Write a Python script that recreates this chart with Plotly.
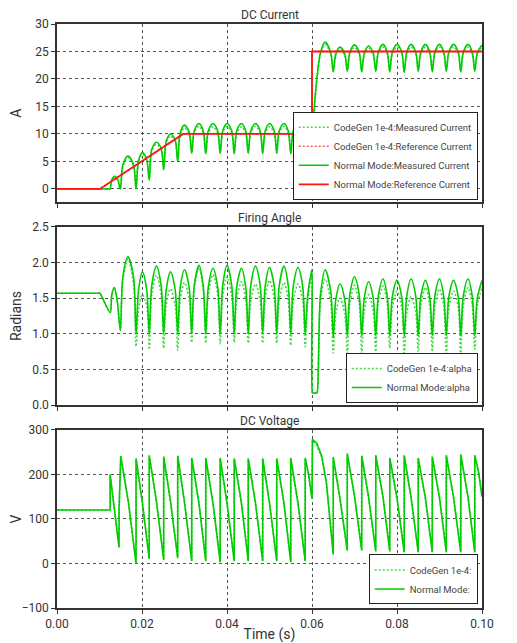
import plotly.graph_objects as go
from plotly.subplots import make_subplots

# ---- DC Current (A) ----
cur_t = [
    0.0000, 0.0124, 0.0125,
    0.0129, 0.0136, 0.0143, 0.0149,
    0.0155, 0.0167, 0.0180, 0.0186,
    0.0192, 0.0201, 0.0211, 0.0217,
    0.0223, 0.0234, 0.0245, 0.0251,
    0.0257, 0.0267, 0.0278, 0.0284,
    0.0290, 0.0300, 0.0311, 0.0317,
    0.0323, 0.0334, 0.0344, 0.0350,
    0.0356, 0.0367, 0.0378, 0.0384,
    0.0390, 0.0400, 0.0411, 0.0417,
    0.0423, 0.0434, 0.0444, 0.0450,
    0.0456, 0.0467, 0.0478, 0.0484,
    0.0490, 0.0500, 0.0511, 0.0517,
    0.0523, 0.0534, 0.0544, 0.0550,
    0.0556, 0.0567, 0.0578, 0.0584,
    0.0590, 0.0600, 0.0610, 0.0620, 0.0631, 0.0644, 0.0650,
    0.0656, 0.0666, 0.0677, 0.0683,
    0.0689, 0.0700, 0.0711, 0.0717,
    0.0723, 0.0733, 0.0744, 0.0750,
    0.0756, 0.0767, 0.0777, 0.0783,
    0.0789, 0.0800, 0.0811, 0.0817,
    0.0823, 0.0833, 0.0844, 0.0850,
    0.0856, 0.0867, 0.0877, 0.0883,
    0.0889, 0.0900, 0.0910, 0.0916,
    0.0922, 0.0933, 0.0944, 0.0950,
    0.0956, 0.0967, 0.0977, 0.0983,
    0.0989, 0.1000,
]
cur_normal = [
    0.0, 0.0, 0.0,
    1.7, 2.3, 1.7, 0.0,
    4.4, 6.0, 4.4, 0.0,
    5.2, 6.6, 5.4, 1.6,
    7.2, 8.5, 7.4, 3.5,
    8.7, 10.0, 8.9, 5.0,
    10.2, 11.6, 10.3, 6.5,
    10.6, 11.9, 10.6, 6.4,
    10.6, 11.9, 10.6, 6.5,
    10.6, 11.9, 10.6, 6.4,
    10.6, 11.9, 10.6, 6.5,
    10.6, 11.9, 10.6, 6.4,
    10.6, 11.9, 10.6, 6.5,
    10.6, 11.9, 10.6, 6.4,
    10.6, 11.9, 10.6, 6.4,
    9.6, 11.4, 19.0, 24.8, 26.7, 24.8, 21.3,
    24.6, 25.8, 24.6, 21.4,
    24.8, 26.2, 24.8, 21.3,
    24.7, 26.0, 24.7, 21.4,
    24.9, 26.3, 24.9, 21.3,
    24.9, 26.3, 24.9, 21.2,
    24.9, 26.3, 24.9, 21.4,
    24.9, 26.3, 24.9, 21.3,
    24.9, 26.3, 24.9, 21.4,
    24.9, 26.3, 24.9, 21.3,
    24.9, 26.3, 24.9, 21.4,
    24.8, 26.2,
]
cur_codegen = [
    0.0, 0.0, 0.0,
    1.6, 2.1, 1.5, 0.0,
    4.1, 5.7, 4.2, 0.2,
    5.0, 6.3, 5.2, 1.8,
    6.9, 8.1, 7.1, 3.7,
    8.4, 9.6, 8.6, 5.2,
    9.8, 11.1, 9.9, 6.6,
    10.2, 11.4, 10.2, 6.6,
    10.1, 11.3, 10.1, 6.6,
    10.2, 11.4, 10.2, 6.6,
    10.1, 11.3, 10.1, 6.6,
    10.2, 11.4, 10.2, 6.6,
    10.1, 11.3, 10.1, 6.6,
    10.2, 11.4, 10.2, 6.6,
    10.1, 11.3, 10.1, 6.6,
    9.4, 11.0, 18.6, 24.5, 26.3, 24.5, 21.5,
    24.3, 25.4, 24.3, 21.6,
    24.5, 25.7, 24.5, 21.5,
    24.4, 25.6, 24.4, 21.6,
    24.6, 25.8, 24.6, 21.5,
    24.6, 25.8, 24.6, 21.4,
    24.6, 25.8, 24.6, 21.6,
    24.6, 25.8, 24.6, 21.5,
    24.6, 25.8, 24.6, 21.6,
    24.6, 25.8, 24.6, 21.5,
    24.6, 25.8, 24.6, 21.6,
    24.5, 25.8,
]
ref_t = [0.0, 0.0101, 0.0297, 0.0600, 0.0600, 0.1000]
ref_current = [0, 0, 10, 10, 25, 25]

# ---- Firing Angle (rad) ----
alpha_t = [
    0.0000, 0.0099, 0.0101, 0.0125,
    0.0129, 0.0135, 0.0142, 0.0149,
    0.0155, 0.0167, 0.0180, 0.0186,
    0.0192, 0.0201, 0.0211, 0.0217,
    0.0223, 0.0234, 0.0245, 0.0251,
    0.0257, 0.0267, 0.0278, 0.0284,
    0.0290, 0.0300, 0.0311, 0.0317,
    0.0323, 0.0334, 0.0344, 0.0350,
    0.0356, 0.0367, 0.0378, 0.0384,
    0.0390, 0.0400, 0.0411, 0.0417,
    0.0423, 0.0434, 0.0444, 0.0450,
    0.0456, 0.0467, 0.0478, 0.0484,
    0.0490, 0.0500, 0.0511, 0.0517,
    0.0523, 0.0534, 0.0544, 0.0550,
    0.0556, 0.0567, 0.0578, 0.0584,
    0.0590, 0.0599, 0.0600, 0.0601, 0.0602, 0.0611, 0.0612, 0.0620, 0.0631, 0.0644, 0.0650,
    0.0656, 0.0666, 0.0677, 0.0683,
    0.0689, 0.0700, 0.0711, 0.0717,
    0.0723, 0.0733, 0.0744, 0.0750,
    0.0756, 0.0767, 0.0777, 0.0783,
    0.0789, 0.0800, 0.0811, 0.0817,
    0.0823, 0.0833, 0.0844, 0.0850,
    0.0856, 0.0867, 0.0877, 0.0883,
    0.0889, 0.0900, 0.0910, 0.0916,
    0.0922, 0.0933, 0.0944, 0.0950,
    0.0956, 0.0967, 0.0977, 0.0983,
    0.0989, 0.1000,
]
alpha_normal = [
    1.57, 1.57, 1.57, 1.30,
    1.55, 1.65, 1.45, 1.05,
    1.80, 2.08, 1.80, 1.00,
    1.62, 1.87, 1.62, 1.00,
    1.68, 1.95, 1.68, 1.00,
    1.62, 1.87, 1.62, 1.00,
    1.65, 1.90, 1.65, 1.00,
    1.68, 1.96, 1.68, 1.00,
    1.66, 1.92, 1.66, 1.00,
    1.68, 1.96, 1.68, 1.00,
    1.66, 1.92, 1.66, 1.00,
    1.68, 1.95, 1.68, 1.00,
    1.67, 1.93, 1.67, 1.00,
    1.68, 1.95, 1.68, 1.00,
    1.67, 1.93, 1.67, 1.00,
    1.55, 1.88, 1.90, 0.17, 0.17, 0.17, 0.17, 1.55, 1.90, 1.60, 0.95,
    1.48, 1.70, 1.48, 0.97,
    1.55, 1.80, 1.55, 0.97,
    1.50, 1.73, 1.50, 0.97,
    1.53, 1.77, 1.53, 0.97,
    1.52, 1.75, 1.52, 0.97,
    1.53, 1.77, 1.53, 0.97,
    1.52, 1.75, 1.52, 0.97,
    1.53, 1.77, 1.53, 0.97,
    1.52, 1.75, 1.52, 0.97,
    1.53, 1.77, 1.53, 0.97,
    1.50, 1.75,
]
alpha_codegen = [
    1.57, 1.57, 1.57, 1.30,
    1.55, 1.65, 1.45, 1.05,
    1.75, 2.05, 1.70, 0.82,
    1.35, 1.55, 1.40, 0.78,
    1.55, 1.82, 1.55, 0.80,
    1.40, 1.63, 1.40, 0.77,
    1.48, 1.72, 1.48, 0.88,
    1.62, 1.93, 1.62, 0.87,
    1.55, 1.83, 1.55, 0.86,
    1.53, 1.80, 1.53, 0.88,
    1.48, 1.73, 1.48, 0.87,
    1.46, 1.70, 1.46, 0.87,
    1.50, 1.75, 1.50, 0.87,
    1.47, 1.72, 1.47, 0.84,
    1.46, 1.70, 1.46, 0.82,
    1.45, 1.83, 1.85, 0.17, 0.17, 0.17, 0.17, 1.45, 1.77, 1.45, 0.73,
    1.28, 1.50, 1.28, 0.73,
    1.42, 1.68, 1.42, 0.73,
    1.32, 1.55, 1.32, 0.75,
    1.42, 1.67, 1.42, 0.80,
    1.37, 1.60, 1.37, 0.73,
    1.30, 1.52, 1.30, 0.75,
    1.40, 1.65, 1.40, 0.75,
    1.38, 1.63, 1.38, 0.72,
    1.37, 1.60, 1.37, 0.73,
    1.40, 1.65, 1.40, 0.78,
    1.40, 1.65,
]

# ---- DC Voltage (V) ----
volt_t = [
    0.0000, 0.0125, 0.0125, 0.0146, 0.0146, 0.0150,
    0.0168, 0.0186, 0.0186,
    0.0201, 0.0217, 0.0217,
    0.0234, 0.0251, 0.0251,
    0.0267, 0.0284, 0.0284,
    0.0300, 0.0317, 0.0317,
    0.0334, 0.0350, 0.0350,
    0.0367, 0.0384, 0.0384,
    0.0400, 0.0417, 0.0417,
    0.0434, 0.0450, 0.0450,
    0.0467, 0.0484, 0.0484,
    0.0500, 0.0517, 0.0517,
    0.0534, 0.0550, 0.0550,
    0.0567, 0.0584, 0.0584,
    0.0592, 0.0600, 0.0601,
    0.0611, 0.0623, 0.0634, 0.0642, 0.0650, 0.0650,
    0.0666, 0.0683, 0.0683,
    0.0700, 0.0717, 0.0717,
    0.0733, 0.0750, 0.0750,
    0.0767, 0.0783, 0.0783,
    0.0800, 0.0817, 0.0817,
    0.0833, 0.0850, 0.0850,
    0.0867, 0.0883, 0.0883,
    0.0900, 0.0916, 0.0916,
    0.0933, 0.0950, 0.0950,
    0.0967, 0.0983, 0.0983,
    0.0992, 0.1000,
]
volt_normal = [
    120, 120, 200, 36, 120, 241,
    138, 0, 236,
    136, 10, 243,
    140, 8, 240,
    140, 12, 242,
    138, 5, 237,
    136, 5, 237,
    136, 3, 237,
    136, 5, 236,
    136, 5, 236,
    136, 5, 236,
    136, 5, 236,
    136, 3, 237,
    136, 5, 237,
    200, 145, 279,
    270, 241, 181, 107, 20, 239,
    145, 29, 247,
    152, 29, 242,
    150, 27, 243,
    150, 27, 237,
    147, 25, 243,
    149, 25, 237,
    146, 25, 240,
    148, 25, 243,
    149, 25, 245,
    150, 25, 243,
    205, 150,
]
volt_codegen = [
    120, 120, 198, 38, 118, 239,
    136, 2, 234,
    134, 12, 241,
    138, 10, 238,
    138, 14, 240,
    136, 7, 235,
    134, 7, 235,
    134, 5, 235,
    134, 7, 234,
    134, 7, 234,
    134, 7, 234,
    134, 7, 234,
    134, 5, 235,
    134, 7, 235,
    198, 148, 276,
    267, 238, 179, 106, 23, 236,
    143, 31, 244,
    150, 31, 240,
    148, 29, 241,
    148, 29, 235,
    145, 27, 241,
    147, 27, 235,
    144, 27, 238,
    146, 27, 241,
    147, 27, 243,
    148, 27, 241,
    203, 152,
]

GREEN = "rgb(0,204,0)"
GREEN_DOT = "rgb(70,215,70)"
RED = "rgb(255,20,20)"
RED_DOT = "rgb(255,90,90)"
DOT = "2px,2px"

fig = make_subplots(rows=3, cols=1, vertical_spacing=0.0425,
                    subplot_titles=("DC Current", "Firing Angle", "DC Voltage"))

# top panel: currents (spline keeps the ripple arches rounded)
fig.add_trace(go.Scatter(x=cur_t, y=cur_codegen, mode="lines", name="CodeGen 1e-4:Measured Current",
                         line=dict(color=GREEN_DOT, width=1.6, dash=DOT, shape="spline", smoothing=0.9),
                         legend="legend"), row=1, col=1)
fig.add_trace(go.Scatter(x=ref_t, y=ref_current, mode="lines", name="CodeGen 1e-4:Reference Current",
                         line=dict(color=RED_DOT, width=1.6, dash=DOT), legend="legend"), row=1, col=1)
fig.add_trace(go.Scatter(x=cur_t, y=cur_normal, mode="lines", name="Normal Mode:Measured Current",
                         line=dict(color=GREEN, width=1.6, shape="spline", smoothing=0.9),
                         legend="legend"), row=1, col=1)
fig.add_trace(go.Scatter(x=ref_t, y=ref_current, mode="lines", name="Normal Mode:Reference Current",
                         line=dict(color=RED, width=1.8), legend="legend"), row=1, col=1)

# middle panel: firing angle
fig.add_trace(go.Scatter(x=alpha_t, y=alpha_codegen, mode="lines", name="CodeGen 1e-4:alpha",
                         line=dict(color=GREEN_DOT, width=1.6, dash=DOT, shape="spline", smoothing=0.9),
                         legend="legend2"), row=2, col=1)
fig.add_trace(go.Scatter(x=alpha_t, y=alpha_normal, mode="lines", name="Normal Mode:alpha",
                         line=dict(color=GREEN, width=1.6, shape="spline", smoothing=0.9),
                         legend="legend2"), row=2, col=1)

# bottom panel: dc voltage
fig.add_trace(go.Scatter(x=volt_t, y=volt_codegen, mode="lines", name="CodeGen 1e-4:",
                         line=dict(color=GREEN_DOT, width=1.6, dash=DOT), legend="legend3"), row=3, col=1)
fig.add_trace(go.Scatter(x=volt_t, y=volt_normal, mode="lines", name="Normal Mode:",
                         line=dict(color=GREEN, width=1.6), legend="legend3"), row=3, col=1)

axis_style = dict(showline=True, mirror=True, linecolor="#333", linewidth=1.5,
                  showgrid=True, gridcolor="#555", griddash="dot", gridwidth=1,
                  zeroline=False, ticks="outside", ticklen=4, tickcolor="#333",
                  automargin=False)

for r in (1, 2, 3):
    fig.update_xaxes(range=[0, 0.1], dtick=0.02, tickformat=".2f",
                     showticklabels=(r == 3), row=r, col=1, **axis_style)

fig.update_yaxes(range=[-2.4, 30], dtick=5, row=1, col=1,
                 title=dict(text="A", standoff=10), **axis_style)
fig.update_yaxes(range=[0, 2.5], dtick=0.5, tickformat=".1f", row=2, col=1,
                 title=dict(text="Radians", standoff=9), **axis_style)
fig.update_yaxes(range=[-100, 300], dtick=100, row=3, col=1,
                 title=dict(text="V", standoff=0), **axis_style)
fig.update_xaxes(title=dict(text="Time (s)", standoff=4), row=3, col=1)

fig.update_annotations(font=dict(size=12, color="#333"))

legend_style = dict(bgcolor="white", bordercolor="#222", borderwidth=1,
                    font=dict(size=9.5, color="#444"), xanchor="right", yanchor="bottom",
                    x=0.99, tracegroupgap=0, itemwidth=30)

# the page body keeps its default 8px margin, so the figure is 8px smaller
fig.update_layout(
    width=509, height=635,
    margin=dict(l=49, r=35, t=16, b=35),
    plot_bgcolor="white", paper_bgcolor="white",
    font=dict(family="Roboto, sans-serif", size=12, color="#333"),
    legend=dict(y=0.699, **legend_style),
    legend2=dict(y=0.351, **legend_style),
    legend3=dict(y=0.006, **legend_style),
)

fig.write_html("out.html")
